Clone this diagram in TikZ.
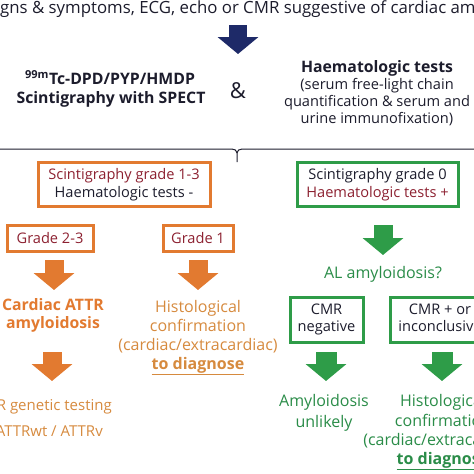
\documentclass[tikz,border=0pt]{standalone}
\usepackage{fontspec}
\setmainfont{Open Sans}
\usetikzlibrary{arrows.meta}
\definecolor{navy}{RGB}{30,42,104}
\definecolor{orng}{RGB}{226,122,48}
\definecolor{orngtxt}{RGB}{214,138,62}
\definecolor{drkred}{RGB}{140,32,48}
\definecolor{grn}{RGB}{46,156,72}
\definecolor{grntxt}{RGB}{42,140,72}
\definecolor{ink}{RGB}{28,28,44}
\tikzset{
  txt/.style={inner sep=0pt, anchor=base, font=\fontsize{14.6}{17}\selectfont},
  ltxt/.style={inner sep=0pt, anchor=base, font=\fontsize{16}{18}\selectfont},
  btxt/.style={inner sep=0pt, anchor=base, font=\fontsize{15.8}{19}\selectfont\bfseries},
  obox/.style={draw=orng, line width=3pt, inner sep=0pt},
  gbox/.style={draw=grn, line width=3pt, inner sep=0pt},
  fat/.style={line width=#1, -{Triangle[length=17pt,width=40pt]}},
}
\begin{document}
\begin{tikzpicture}[x=1pt,y=-1pt]
\useasboundingbox (0,0) rectangle (474,474);
\clip (0,0) rectangle (474,474);
% top line
\node[inner sep=0pt, anchor=base west, text=ink, font=\fontsize{16.8}{19}\selectfont] (sig) at (0,13) {\llap{Si}gns \& symptoms, ECG, echo or CMR suggestive of cardiac amyloidosis};
% navy arrow
\coordinate (n1) at (238,25);
\coordinate (n2) at (238,54);
\draw[fat=18pt, navy] (n1) -- (n2);
% scintigraphy
\node[btxt, text=ink] (tc) at (110,84) {\textsuperscript{99m}Tc-DPD/PYP/HMDP};
\node[btxt, text=ink] (spect) at (111,103) {Scintigraphy with SPECT};
\node[inner sep=0pt, text=ink, font=\fontsize{22}{24}\selectfont] (amp) at (238,91) {\&};
\node[btxt, text=ink] (haem) at (377,72) {Haematologic tests};
\node[txt, text=ink] (h1) at (377,89) {(serum free-light chain};
\node[txt, text=ink] (h2) at (377,106) {quantification \& serum and};
\node[txt, text=ink] (h3) at (377,123) {urine immunofixation)};
% brace
\coordinate (bl) at (0,149);
\coordinate (br) at (474,149);
\coordinate (bt) at (237,162);
\draw[ink, line width=1pt] (bl) -- (232,149) to[out=0,in=90] (237,153) -- (bt);
\draw[ink, line width=1pt] (br) -- (242,149) to[out=180,in=90] (237,153);
% left branch
\node[obox, minimum width=172pt, minimum height=44pt] (lbox) at (124,184) {};
\node[txt, text=drkred] (l1) at (124,179) {Scintigraphy grade 1-3};
\node[txt, text=ink] (l2) at (124,197) {Haematologic tests -};
\node[obox, minimum width=86pt, minimum height=26pt] (g23) at (50,238) {};
\node[txt, text=drkred] (g23t) at (50,243) {Grade 2-3};
\node[obox, minimum width=70pt, minimum height=26pt] (g1) at (198,238) {};
\node[txt, text=drkred] (g1t) at (198,243) {Grade 1};
\coordinate (oa1) at (54,260); \coordinate (oa1e) at (54,290);
\coordinate (oa2) at (198,260); \coordinate (oa2e) at (198,290);
\draw[fat=19pt, orng] (oa1) -- (oa1e);
\draw[fat=19pt, orng] (oa2) -- (oa2e);
\node[btxt, text=orng] (catt) at (53,310) {Cardiac ATTR};
\node[btxt, text=orng] (camy) at (53,328) {amyloidosis};
\node[ltxt, text=orngtxt] (oh1) at (198,312) {Histological};
\node[ltxt, text=orngtxt] (oh2) at (198,331) {confirmation};
\node[ltxt, text=orngtxt] (oh3) at (198,350) {(cardiac/extracardiac)};
\node[ltxt, text=orngtxt, font=\fontsize{16}{18}\selectfont\bfseries] (oh4) at (198,369) {\underline{to diagnose}};
\coordinate (oa3) at (52,352); \coordinate (oa3e) at (52,381);
\draw[fat=19pt, orng] (oa3) -- (oa3e);
\node[ltxt, anchor=base east, text=orngtxt, font=\fontsize{15}{18}\selectfont] (gen) at (112,410) {ATTR genetic testing};
\node[ltxt, anchor=base east, text=orngtxt, font=\fontsize{15}{18}\selectfont] (wt) at (103,436) {ATTRwt / ATTRv};
% right branch
\node[gbox, minimum width=161pt, minimum height=44pt] (rbox) at (377.5,184) {};
\node[txt, text=ink] (r1) at (377.5,179) {Scintigraphy grade 0};
\node[txt, text=drkred] (r2) at (377.5,197) {Haematologic tests +};
\coordinate (ga1) at (383,225); \coordinate (ga1e) at (383,255);
\draw[fat=19pt, grn] (ga1) -- (ga1e);
\node[ltxt, text=grntxt] (al) at (383,278) {AL amyloidosis?};
\node[gbox, minimum width=73pt, minimum height=45pt] (neg) at (326.5,319.5) {};
\node[txt, text=ink] (neg1) at (326.5,314) {CMR};
\node[txt, text=ink] (neg2) at (326.5,331) {negative};
\node[gbox, minimum width=100pt, minimum height=45pt] (pos) at (440,319.5) {};
\node[txt, text=ink] (pos1) at (440,314) {CMR + or};
\node[txt, text=ink] (pos2) at (440,331) {inconclusive};
\coordinate (ga2) at (326,352); \coordinate (ga2e) at (326,381);
\coordinate (ga3) at (442,352); \coordinate (ga3e) at (442,381);
\draw[fat=21pt, grn] (ga2) -- (ga2e);
\draw[fat=21pt, grn] (ga3) -- (ga3e);
\node[ltxt, text=grntxt] (u1) at (324,406) {Amyloidosis};
\node[ltxt, text=grntxt] (u2) at (324,427) {unlikely};
\node[ltxt, text=grntxt] (gh1) at (443,406) {Histological};
\node[ltxt, text=grntxt] (gh2) at (443,426) {confirmation};
\node[ltxt, text=grntxt] (gh3) at (443,445) {(cardiac/extracardiac)};
\node[ltxt, text=grntxt, font=\fontsize{16}{18}\selectfont\bfseries] (gh4) at (443,464) {\underline{to diagnose}};
\end{tikzpicture}
\end{document}
